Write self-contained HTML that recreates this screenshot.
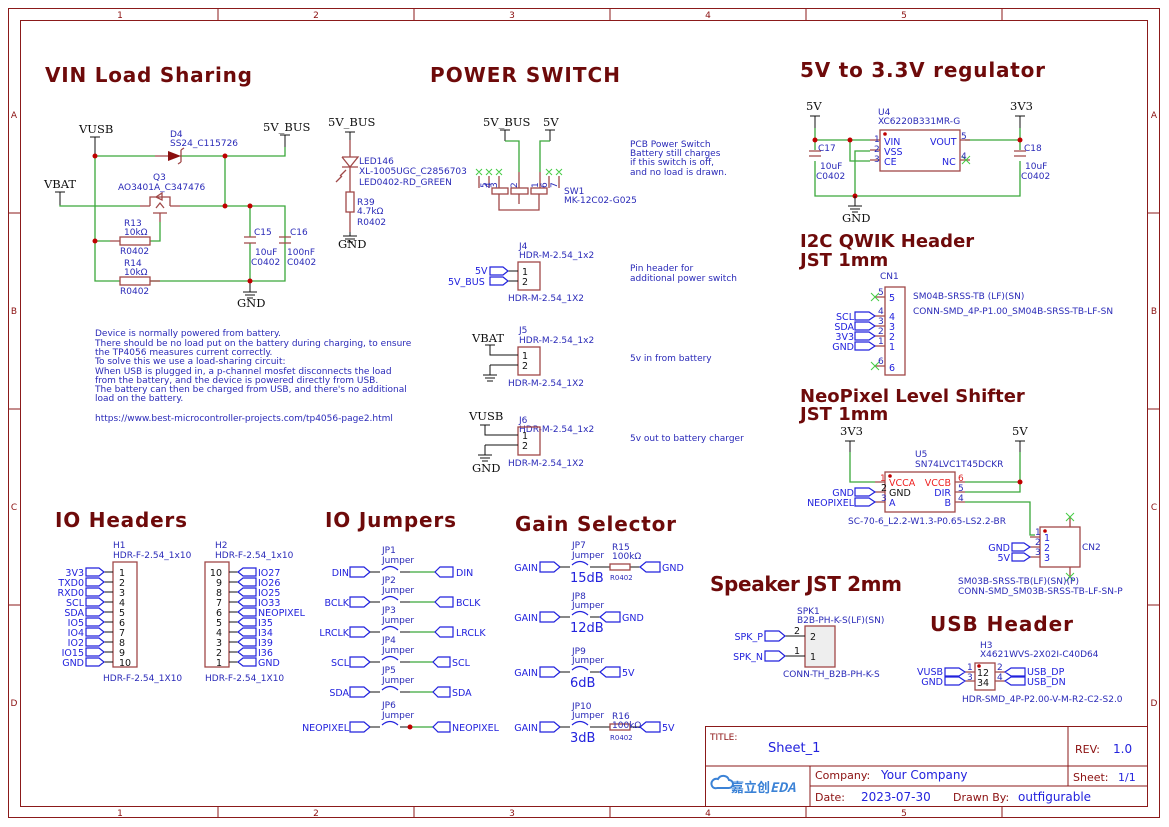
<!DOCTYPE html>
<html><head><meta charset="utf-8"><style>
html,body{margin:0;padding:0;background:#fff}
svg{display:block}
.t{font-family:"DejaVu Sans","Liberation Sans",sans-serif;font-size:9px;fill:#2a2ab8}
.s{font-family:"DejaVu Serif","Liberation Serif",serif;font-size:11.5px;fill:#111}
.h{font-family:"DejaVu Sans","Liberation Sans",sans-serif;font-weight:bold;font-size:20px;fill:#6e0a0a}
.h2{font-family:"DejaVu Sans","Liberation Sans",sans-serif;font-weight:bold;font-size:18px;fill:#6e0a0a}
.f{font-family:"DejaVu Sans","Liberation Sans",sans-serif;font-size:9.5px;fill:#2222dd}
.k{font-family:"DejaVu Sans","Liberation Sans",sans-serif;font-size:9.5px;fill:#111}
.fr{font-family:"DejaVu Sans","Liberation Sans",sans-serif;font-size:9px;fill:#8b1010}
.g{stroke:#3aa83a;stroke-width:1.3;fill:none}
.b{stroke:#111;stroke-width:1;fill:none}
.p{stroke:#a04848;stroke-width:1.3;fill:none}
.n{stroke:#2222dd;stroke-width:1.2;fill:none}
.d{fill:#c00000}
</style></head><body>
<svg width="1169" height="827" viewBox="0 0 1169 827" xmlns="http://www.w3.org/2000/svg">
<!-- frame -->
<rect x="8.5" y="8.5" width="1151" height="809" fill="none" stroke="#8b1a1a"/>
<rect x="20.5" y="20.5" width="1127" height="786" fill="none" stroke="#8b1a1a"/>
<g stroke="#8b1a1a">
<line x1="218" y1="8" x2="218" y2="20"/><line x1="414" y1="8" x2="414" y2="20"/><line x1="610" y1="8" x2="610" y2="20"/><line x1="806" y1="8" x2="806" y2="20"/><line x1="1002" y1="8" x2="1002" y2="20"/>
<line x1="218" y1="806" x2="218" y2="818"/><line x1="414" y1="806" x2="414" y2="818"/><line x1="610" y1="806" x2="610" y2="818"/><line x1="806" y1="806" x2="806" y2="818"/><line x1="1002" y1="806" x2="1002" y2="818"/>
<line x1="8" y1="213" x2="20" y2="213"/><line x1="8" y1="409" x2="20" y2="409"/><line x1="8" y1="605" x2="20" y2="605"/>
<line x1="1147" y1="213" x2="1160" y2="213"/><line x1="1147" y1="409" x2="1160" y2="409"/><line x1="1147" y1="605" x2="1160" y2="605"/>
</g>
<g class="fr" text-anchor="middle">
<text x="120" y="18">1</text><text x="316" y="18">2</text><text x="512" y="18">3</text><text x="708" y="18">4</text><text x="904" y="18">5</text>
<text x="120" y="816">1</text><text x="316" y="816">2</text><text x="512" y="816">3</text><text x="708" y="816">4</text><text x="904" y="816">5</text>
<text x="14" y="118">A</text><text x="14" y="314">B</text><text x="14" y="510">C</text><text x="14" y="706">D</text>
<text x="1154" y="118">A</text><text x="1154" y="314">B</text><text x="1154" y="510">C</text><text x="1154" y="706">D</text>
</g>

<!-- titles -->
<text class="h" x="45" y="82" textLength="207">VIN Load Sharing</text>
<text class="h" x="430" y="82" textLength="190">POWER SWITCH</text>
<text class="h" x="800" y="77" textLength="245">5V to 3.3V regulator</text>
<text class="h2" x="800" y="247">I2C QWIK Header</text>
<text class="h2" x="800" y="266">JST 1mm</text>
<text class="h2" x="800" y="402">NeoPixel Level Shifter</text>
<text class="h2" x="800" y="420">JST 1mm</text>
<text class="h" x="55" y="527" textLength="132">IO Headers</text>
<text class="h" x="325" y="527" textLength="131">IO Jumpers</text>
<text class="h" x="515" y="531" textLength="161">Gain Selector</text>
<text class="h" x="710" y="591" textLength="192">Speaker JST 2mm</text>
<text class="h" x="930" y="631" textLength="143">USB Header</text>

<!-- VIN load sharing -->
<text class="s" x="79" y="133">VUSB</text>
<path class="b" d="M90 137H100M95 137V155"/>
<text class="s" x="263" y="131">5V_BUS</text>
<path class="b" d="M280 135H290M285 135V147"/>
<text class="s" x="44" y="188">VBAT</text>
<path class="b" d="M55 192H65M60 192V205"/>
<path class="g" d="M95 155V281H120M150 281H285V206H180M140 206H60V205M95 156H155M180 156H285V147M225 156V206M250 206V237M250 243V281M285 206V237M285 243V281M95 241H110M150 241H160V222M285 147V156"/>
<path class="p" d="M110 241H120M150 281H160"/>
<rect x="120" y="237" width="30" height="8" class="p"/><rect x="120" y="277" width="30" height="8" class="p"/>
<path d="M168 151L181 156L168 161Z" fill="#8a0f0f"/><path class="p" d="M181 150V162M181 150L184 148M181 162L178 164M155 156H168"/>
<path class="p" d="M140 206H150M170 206H180M150 206V197H170V206M153 213H167M160 213V222M156 208L160 203L164 208M156 197L162 193V200L156 197"/>
<path class="p" d="M244 237H256M244 243H256M279 237H291M279 243H291"/>
<path class="b" d="M250 281V292M243 292H257M245 295H255M247 298H253"/>
<g fill="#c00000"><circle cx="95" cy="156" r="2.5"/><circle cx="225" cy="156" r="2.5"/><circle cx="225" cy="206" r="2.5"/><circle cx="250" cy="206" r="2.5"/><circle cx="95" cy="241" r="2.5"/><circle cx="250" cy="281" r="2.5"/></g>
<text class="t" x="170" y="137">D4</text><text class="t" x="170" y="146">SS24_C115726</text>
<text class="t" x="153" y="180">Q3</text><text class="t" x="118" y="190">AO3401A_C347476</text>
<text class="t" x="124" y="226">R13</text><text class="t" x="124" y="235">10kΩ</text><text class="t" x="120" y="254" font-size="6.5">R0402</text>
<text class="t" x="124" y="266">R14</text><text class="t" x="124" y="275">10kΩ</text><text class="t" x="120" y="294" font-size="6.5">R0402</text>
<text class="t" x="254" y="235">C15</text><text class="t" x="255" y="255">10uF</text><text class="t" x="251" y="265">C0402</text>
<text class="t" x="290" y="235">C16</text><text class="t" x="287" y="255">100nF</text><text class="t" x="287" y="265">C0402</text>
<text class="s" x="237" y="307">GND</text>

<!-- LED -->
<text class="s" x="328" y="126">5V_BUS</text>
<path class="b" d="M345 132H355M350 132V140"/>
<path class="p" d="M350 140V157M342 157H358L350 167L342 157M342 167H358M350 167V192M350 212V232M346 170L340 176M342 176L336 182"/>
<rect x="346" y="192" width="8" height="20" class="p"/>
<path class="b" d="M350 232V236M343 236H357M345 239H355M347 242H353"/>
<text class="s" x="338" y="248">GND</text>
<text class="t" x="359" y="164">LED146</text><text class="t" x="359" y="174">XL-1005UGC_C2856703</text><text class="t" x="359" y="185">LED0402-RD_GREEN</text>
<text class="t" x="357" y="205">R39</text><text class="t" x="357" y="214">4.7kΩ</text><text class="t" x="357" y="225">R0402</text>

<!-- Power switch -->
<text class="s" x="483" y="126">5V_BUS</text><text class="s" x="543" y="126">5V</text>
<path class="b" d="M500 130H510M505 130V141M545 130H555M550 130V141"/>
<path class="g" d="M505 141H519V172M550 141H540V172"/>
<path class="p" d="M519 172V188M540 172V188M479 176V188M489 176V188M499 176V188M549 176V188M559 176V188"/>
<rect x="492" y="188" width="16" height="6" class="p"/><rect x="511" y="188" width="17" height="6" class="p"/><rect x="531" y="188" width="16" height="6" class="p"/>
<path class="p" d="M499 194V210H539V194M519 194V204"/>
<g class="t" font-size="8">
<text transform="translate(487 188) rotate(-90)">5</text><text transform="translate(491 188) rotate(-90)">4</text><text transform="translate(497 188) rotate(-90)">3</text><text transform="translate(517 188) rotate(-90)">2</text><text transform="translate(538 188) rotate(-90)">1</text><text transform="translate(547 188) rotate(-90)">6</text><text transform="translate(557 188) rotate(-90)">7</text>
</g>
<g stroke="#4c4" stroke-width="1"><path d="M476 169l6 6M482 169l-6 6M486 169l6 6M492 169l-6 6M496 169l6 6M502 169l-6 6M546 169l6 6M552 169l-6 6M556 169l6 6M562 169l-6 6"/></g>
<text class="t" x="564" y="194">SW1</text><text class="t" x="564" y="203">MK-12C02-G025</text>
<text class="t" x="630" y="147">PCB Power Switch</text><text class="t" x="630" y="156">Battery still charges</text><text class="t" x="630" y="165">if this switch is off,</text><text class="t" x="630" y="175">and no load is drawn.</text>

<!-- J4 -->
<text class="t" x="519" y="249">J4</text><text class="t" x="519" y="258">HDR-M-2.54_1x2</text>
<rect x="518" y="262" width="22" height="28" class="p"/>
<path class="b" d="M508 271H518M508 281H518"/><text class="k" x="522" y="275">1</text><text class="k" x="522" y="285">2</text>
<path class="n" d="M490 267H503L508 271L503 275H490ZM490 277H503L508 281L503 285H490Z"/>
<text class="f" x="475" y="274">5V</text><text class="f" x="448" y="285">5V_BUS</text>
<text class="t" x="508" y="301">HDR-M-2.54_1X2</text>
<text class="t" x="630" y="271">Pin header for</text><text class="t" x="630" y="281">additional power switch</text>
<!-- J5 -->
<text class="t" x="519" y="333">J5</text><text class="t" x="519" y="343">HDR-M-2.54_1x2</text>
<rect x="518" y="347" width="22" height="28" class="p"/>
<text class="s" x="472" y="342">VBAT</text>
<path class="b" d="M485 345H495M490 345V355H518M490 365V375H484M508 365H518M490 365H508M483 375H497M485 378H495M487 381H493"/>
<text class="k" x="522" y="359">1</text><text class="k" x="522" y="369">2</text>
<text class="t" x="508" y="386">HDR-M-2.54_1X2</text>
<text class="t" x="630" y="361">5v in from battery</text>
<!-- J6 -->
<text class="t" x="519" y="423">J6</text><text class="t" x="519" y="432">HDR-M-2.54_1x2</text>
<rect x="518" y="427" width="22" height="28" class="p"/>
<text class="s" x="469" y="420">VUSB</text>
<path class="b" d="M480 425H490M485 425V435H518M485 445H518M485 445V455M478 455H492M480 458H490M482 461H488"/>
<text class="k" x="522" y="439">1</text><text class="k" x="522" y="449">2</text>
<text class="s" x="472" y="472">GND</text>
<text class="t" x="508" y="466">HDR-M-2.54_1X2</text>
<text class="t" x="630" y="441">5v out to battery charger</text>

<!-- paragraph -->
<g class="t" font-size="9.3">
<text x="95" y="336">Device is normally powered from battery.</text>
<text x="95" y="346">There should be no load put on the battery during charging, to ensure</text>
<text x="95" y="355">the TP4056 measures current correctly.</text>
<text x="95" y="364">To solve this we use a load-sharing circuit:</text>
<text x="95" y="374">When USB is plugged in, a p-channel mosfet disconnects the load</text>
<text x="95" y="383">from the battery, and the device is powered directly from USB.</text>
<text x="95" y="392">The battery can then be charged from USB, and there's no additional</text>
<text x="95" y="401">load on the battery.</text>
<text x="95" y="421">https://www.best-microcontroller-projects.com/tp4056-page2.html</text>
</g>

<!-- Regulator -->
<text class="s" x="806" y="110">5V</text><text class="s" x="1010" y="110">3V3</text>
<path class="b" d="M810 116H820M815 116V128M1015 116H1025M1020 116V128"/>
<path class="g" d="M815 128V150M815 161V196H1020V161M1020 150V128M815 140H870M850 140V161H870M870 151H855V196M965 140H1020"/>
<path class="p" d="M809 151H821M809 156H821M1014 151H1026M1014 156H1026"/>
<rect x="880" y="130" width="80" height="41" class="p"/>
<path class="p" d="M870 140H880M870 150H880M870 160H880M960 140H970M960 160H970"/>
<circle cx="885" cy="134" r="1.8" class="d"/>
<path stroke="#4c4" d="M962 156l8 8M970 156l-8 8"/>
<g fill="#c00000"><circle cx="815" cy="140" r="2.5"/><circle cx="850" cy="140" r="2.5"/><circle cx="855" cy="196" r="2.5"/><circle cx="1020" cy="140" r="2.5"/></g>
<path class="b" d="M855 196V206M848 206H862M850 209H860M852 212H858"/>
<text class="s" x="842" y="222">GND</text>
<text class="t" x="878" y="115">U4</text><text class="t" x="878" y="124">XC6220B331MR-G</text>
<g class="t"><text x="874" y="142">1</text><text x="874" y="152">2</text><text x="874" y="162">3</text><text x="961" y="139">5</text><text x="961" y="159">4</text></g>
<g class="f"><text x="884" y="145">VIN</text><text x="884" y="155">VSS</text><text x="884" y="165">CE</text><text x="930" y="145">VOUT</text><text x="942" y="165">NC</text></g>
<text class="t" x="818" y="151">C17</text><text class="t" x="820" y="169">10uF</text><text class="t" x="816" y="179">C0402</text>
<text class="t" x="1024" y="151">C18</text><text class="t" x="1025" y="169">10uF</text><text class="t" x="1021" y="179">C0402</text>

<!-- CN1 -->
<text class="t" x="880" y="279">CN1</text>
<rect x="885" y="287" width="20" height="88" class="p"/>
<path class="p" d="M875 297H885M875 316H885M875 326H885M875 336H885M875 346H885M875 366H885"/>
<path stroke="#4c4" d="M871 293l8 8M879 293l-8 8M871 362l8 8M879 362l-8 8"/>
<g class="t"><text x="878" y="295">5</text><text x="878" y="314">4</text><text x="878" y="324">3</text><text x="878" y="334">2</text><text x="878" y="344">1</text><text x="878" y="364">6</text></g>
<g class="f"><text x="889" y="301">5</text><text x="889" y="320">4</text><text x="889" y="330">3</text><text x="889" y="340">2</text><text x="889" y="350">1</text><text x="889" y="371">6</text></g>
<path class="n" d="M855 312H869L875 316L869 320H855ZM855 322H869L875 326L869 330H855ZM855 332H869L875 336L869 340H855ZM855 342H869L875 346L869 350H855Z"/>
<g class="f" text-anchor="end"><text x="854" y="320">SCL</text><text x="854" y="330">SDA</text><text x="854" y="340">3V3</text><text x="854" y="350">GND</text></g>
<text class="t" x="913" y="299">SM04B-SRSS-TB (LF)(SN)</text>
<text class="t" x="913" y="314">CONN-SMD_4P-P1.00_SM04B-SRSS-TB-LF-SN</text>

<!-- U5 -->
<text class="s" x="840" y="435">3V3</text><text class="s" x="1012" y="435">5V</text>
<path class="b" d="M845 441H855M850 441V452M1015 441H1025M1020 441V452"/>
<path class="g" d="M850 452V482H875M1020 452V492H965M965 482H1020M965 502H1030V535H1035"/>
<circle cx="1020" cy="482" r="2.5" class="d"/>
<text class="t" x="915" y="457">U5</text><text class="t" x="915" y="467">SN74LVC1T45DCKR</text>
<rect x="885" y="472" width="70" height="40" class="p"/><circle cx="890" cy="476" r="1.8" class="d"/>
<path class="p" d="M875 482H885M875 492H885M875 502H885M955 482H965M955 492H965M955 502H965"/>
<text x="880" y="481" class="t" style="fill:#d22">1</text><text x="881" y="491" class="k">2</text><text x="881" y="501" class="t">3</text>
<text x="958" y="481" class="t" style="fill:#d22">6</text><text x="958" y="491" class="t">5</text><text x="958" y="501" class="t">4</text>
<text x="889" y="486" class="f" style="fill:#e22">VCCA</text><text x="889" y="496" class="k">GND</text><text x="889" y="506" class="f">A</text>
<text x="951" y="486" class="f" style="fill:#e22" text-anchor="end">VCCB</text><text x="951" y="496" class="f" text-anchor="end">DIR</text><text x="951" y="506" class="f" text-anchor="end">B</text>
<path class="n" d="M855 488H869L875 492L869 496H855ZM855 498H869L875 502L869 506H855Z"/>
<g class="f" text-anchor="end"><text x="854" y="496">GND</text><text x="854" y="506">NEOPIXEL</text></g>
<text class="t" x="848" y="524">SC-70-6_L2.2-W1.3-P0.65-LS2.2-BR</text>
<!-- CN2 -->
<rect x="1040" y="527" width="40" height="40" class="p"/><circle cx="1045" cy="531" r="1.8" class="d"/>
<path class="p" d="M1030 537H1040M1030 547H1040M1030 557H1040M1070 517V527M1070 567V577"/>
<path stroke="#4c4" d="M1066 513l8 8M1074 513l-8 8M1066 573l8 8M1074 573l-8 8"/>
<g class="f"><text x="1044" y="541">1</text><text x="1044" y="551">2</text><text x="1044" y="561">3</text></g>
<g class="t"><text x="1035" y="535">1</text><text x="1035" y="545">2</text><text x="1035" y="555">3</text></g>
<text class="t" x="1082" y="550">CN2</text>
<path class="n" d="M1012 543H1024L1030 547L1024 551H1012ZM1012 553H1024L1030 557L1024 561H1012Z"/>
<g class="f" text-anchor="end"><text x="1010" y="551">GND</text><text x="1010" y="561">5V</text></g>
<text class="t" x="958" y="584">SM03B-SRSS-TB(LF)(SN)(P)</text>
<text class="t" x="958" y="594">CONN-SMD_SM03B-SRSS-TB-LF-SN-P</text>

<!-- Speaker -->
<text class="t" x="797" y="614">SPK1</text><text class="t" x="797" y="623">B2B-PH-K-S(LF)(SN)</text>
<rect x="805" y="626" width="30" height="41" fill="#eeeeee" stroke="#a04848" stroke-width="1.3"/>
<path class="b" d="M785 636H805M785 656H805"/>
<text class="k" x="794" y="634">2</text><text class="k" x="794" y="654">1</text>
<text class="k" x="810" y="640">2</text><text class="k" x="810" y="660">1</text>
<path class="n" d="M765 631H779L785 636L779 641H765ZM765 651H779L785 656L779 661H765Z"/>
<g class="f" text-anchor="end"><text x="763" y="640">SPK_P</text><text x="763" y="660">SPK_N</text></g>
<text class="t" x="783" y="677">CONN-TH_B2B-PH-K-S</text>

<!-- USB header -->
<text class="t" x="980" y="648">H3</text><text class="t" x="980" y="657">X4621WVS-2X02I-C40D64</text>
<rect x="975" y="663" width="20" height="27" class="p"/><circle cx="979" cy="666" r="1.8" class="d"/>
<path class="p" d="M965 672H975M965 681H975M995 672H1005M995 681H1005"/>
<text class="k" x="977" y="676">12</text><text class="k" x="977" y="686">34</text>
<g class="t"><text x="967" y="670">1</text><text x="967" y="680">3</text><text x="997" y="670">2</text><text x="997" y="680">4</text></g>
<path class="n" d="M945 668H959L965 672L959 676H945ZM945 677H959L965 681L959 685H945ZM1025 668H1011L1005 672L1011 676H1025ZM1025 677H1011L1005 681L1011 685H1025Z"/>
<g class="f"><text x="943" y="675" text-anchor="end">VUSB</text><text x="943" y="685" text-anchor="end">GND</text><text x="1027" y="675">USB_DP</text><text x="1027" y="685">USB_DN</text></g>
<text class="t" x="962" y="702">HDR-SMD_4P-P2.00-V-M-R2-C2-S2.0</text>

<!-- H1 -->
<text class="t" x="113" y="548">H1</text><text class="t" x="113" y="558">HDR-F-2.54_1x10</text>
<rect x="113" y="562" width="24" height="105" class="p"/>
<text class="t" x="215" y="548">H2</text><text class="t" x="215" y="558">HDR-F-2.54_1x10</text>
<rect x="205" y="562" width="24" height="105" class="p"/>
<path class="b" d="M103 572H113M103 582H113M103 592H113M103 602H113M103 612H113M103 622H113M103 632H113M103 642H113M103 652H113M103 662H113M229 572H239M229 582H239M229 592H239M229 602H239M229 612H239M229 622H239M229 632H239M229 642H239M229 652H239M229 662H239"/>
<path class="n" d="M86 568H99L104 572L99 576H86ZM86 578H99L104 582L99 586H86ZM86 588H99L104 592L99 596H86ZM86 598H99L104 602L99 606H86ZM86 608H99L104 612L99 616H86ZM86 618H99L104 622L99 626H86ZM86 628H99L104 632L99 636H86ZM86 638H99L104 642L99 646H86ZM86 648H99L104 652L99 656H86ZM86 658H99L104 662L99 666H86Z"/>
<path class="n" d="M256 568H243L238 572L243 576H256ZM256 578H243L238 582L243 586H256ZM256 588H243L238 592L243 596H256ZM256 598H243L238 602L243 606H256ZM256 608H243L238 612L243 616H256ZM256 618H243L238 622L243 626H256ZM256 628H243L238 632L243 636H256ZM256 638H243L238 642L243 646H256ZM256 648H243L238 652L243 656H256ZM256 658H243L238 662L243 666H256Z"/>
<g class="f" text-anchor="end"><text x="84" y="576">3V3</text><text x="84" y="586">TXD0</text><text x="84" y="596">RXD0</text><text x="84" y="606">SCL</text><text x="84" y="616">SDA</text><text x="84" y="626">IO5</text><text x="84" y="636">IO4</text><text x="84" y="646">IO2</text><text x="84" y="656">IO15</text><text x="84" y="666">GND</text></g>
<g class="k"><text x="119" y="576">1</text><text x="119" y="586">2</text><text x="119" y="596">3</text><text x="119" y="606">4</text><text x="119" y="616">5</text><text x="119" y="626">6</text><text x="119" y="636">7</text><text x="119" y="646">8</text><text x="119" y="656">9</text><text x="119" y="666">10</text></g>
<g class="k" text-anchor="end"><text x="222" y="576">10</text><text x="222" y="586">9</text><text x="222" y="596">8</text><text x="222" y="606">7</text><text x="222" y="616">6</text><text x="222" y="626">5</text><text x="222" y="636">4</text><text x="222" y="646">3</text><text x="222" y="656">2</text><text x="222" y="666">1</text></g>
<g class="f"><text x="258" y="576">IO27</text><text x="258" y="586">IO26</text><text x="258" y="596">IO25</text><text x="258" y="606">IO33</text><text x="258" y="616">NEOPIXEL</text><text x="258" y="626">I35</text><text x="258" y="636">I34</text><text x="258" y="646">I39</text><text x="258" y="656">I36</text><text x="258" y="666">GND</text></g>
<text class="t" x="103" y="681">HDR-F-2.54_1X10</text><text class="t" x="205" y="681">HDR-F-2.54_1X10</text>

<!-- IO Jumpers -->
<g class="t"><text x="382" y="553">JP1</text><text x="382" y="563">Jumper</text><text x="382" y="583">JP2</text><text x="382" y="593">Jumper</text><text x="382" y="613">JP3</text><text x="382" y="623">Jumper</text><text x="382" y="643">JP4</text><text x="382" y="653">Jumper</text><text x="382" y="673">JP5</text><text x="382" y="683">Jumper</text><text x="382" y="708">JP6</text><text x="382" y="718">Jumper</text></g>
<path class="n" d="M350 567H364L370 572L364 577H350ZM350 597H364L370 602L364 607H350ZM350 627H364L370 632L364 637H350ZM350 657H364L370 662L364 667H350ZM350 687H364L370 692L364 697H350ZM350 722H364L370 727L364 732H350Z"/>
<path class="n" d="M382 570Q390 563 398 570M382 600Q390 593 398 600M382 630Q390 623 398 630M382 660Q390 653 398 660M382 690Q390 683 398 690M382 725Q390 718 398 725"/>
<path class="b" d="M370 572H380M400 572H410M370 602H380M400 602H410M370 632H380M400 632H410M370 662H380M400 662H410M370 692H380M400 692H410M370 727H380M400 727H410"/>
<path class="g" d="M410 572H435M410 602H435M410 632H435M410 662H433M410 692H433M410 727H433"/>
<circle cx="410" cy="727" r="2.5" class="d"/>
<path class="n" d="M453 567H440L435 572L440 577H453ZM453 597H440L435 602L440 607H453ZM453 627H440L435 632L440 637H453ZM450 657H438L433 662L438 667H450ZM450 687H438L433 692L438 697H450ZM450 722H438L433 727L438 732H450Z"/>
<g class="f" text-anchor="end"><text x="349" y="576">DIN</text><text x="349" y="606">BCLK</text><text x="349" y="636">LRCLK</text><text x="349" y="666">SCL</text><text x="349" y="696">SDA</text><text x="349" y="731">NEOPIXEL</text></g>
<g class="f"><text x="456" y="576">DIN</text><text x="456" y="606">BCLK</text><text x="456" y="636">LRCLK</text><text x="452" y="666">SCL</text><text x="452" y="696">SDA</text><text x="452" y="731">NEOPIXEL</text></g>

<!-- Gain -->
<path class="n" d="M540 562H554L560 567L554 572H540ZM540 612H554L560 617L554 622H540ZM540 667H554L560 672L554 677H540ZM540 722H554L560 727L554 732H540Z"/>
<g class="f" text-anchor="end"><text x="538" y="571">GAIN</text><text x="538" y="621">GAIN</text><text x="538" y="676">GAIN</text><text x="538" y="731">GAIN</text></g>
<path class="n" d="M572 565Q580 558 588 565M572 615Q580 608 588 615M572 670Q580 663 588 670M572 725Q580 718 588 725"/>
<path class="b" d="M560 567H570M590 567H610M630 567H640M560 617H570M590 617H600M560 672H570M590 672H600M560 727H570M590 727H610M630 727H640"/>
<rect x="610" y="564" width="20" height="6" class="p"/><rect x="610" y="724" width="20" height="6" class="p"/>
<path class="n" d="M660 562H646L640 567L646 572H660ZM620 612H606L600 617L606 622H620ZM620 667H606L600 672L606 677H620ZM660 722H646L640 727L646 732H660Z"/>
<g class="f"><text x="662" y="571">GND</text><text x="622" y="621">GND</text><text x="622" y="676">5V</text><text x="662" y="731">5V</text></g>
<g class="t"><text x="572" y="548">JP7</text><text x="572" y="558">Jumper</text><text x="572" y="599">JP8</text><text x="572" y="608">Jumper</text><text x="572" y="654">JP9</text><text x="572" y="663">Jumper</text><text x="572" y="709">JP10</text><text x="572" y="718">Jumper</text>
<text x="612" y="550">R15</text><text x="612" y="559">100kΩ</text><text x="610" y="580" font-size="7">R0402</text>
<text x="612" y="719">R16</text><text x="612" y="728">100kΩ</text><text x="610" y="740" font-size="7">R0402</text></g>
<g class="f"><text x="570" y="582" style="font-size:13px">15dB</text><text x="570" y="632" style="font-size:13px">12dB</text><text x="570" y="687" style="font-size:13px">6dB</text><text x="570" y="742" style="font-size:13px">3dB</text></g>

<!-- title block -->
<g stroke="#8b1a1a" fill="none"><rect x="705.5" y="726.5" width="442" height="80"/>
<path d="M705 766H1147M810 786H1147M810 766V806M1068 726V786"/></g>
<text class="fr" x="710" y="740">TITLE:</text>
<text class="f" x="768" y="752" style="font-size:13px">Sheet_1</text>
<text class="fr" x="1075" y="753" style="font-size:11px">REV:</text><text class="f" x="1113" y="753" style="font-size:12px">1.0</text>
<text class="fr" x="815" y="779" style="font-size:11px">Company:</text><text class="f" x="881" y="779" style="font-size:12px">Your Company</text>
<text class="fr" x="1073" y="781" style="font-size:11px">Sheet:</text><text class="f" x="1118" y="781" style="font-size:11px">1/1</text>
<text class="fr" x="815" y="801" style="font-size:11px">Date:</text><text class="f" x="861" y="801" style="font-size:12px">2023-07-30</text>
<text class="fr" x="953" y="801" style="font-size:11px">Drawn By:</text><text class="f" x="1018" y="801" style="font-size:12px">outfigurable</text>
<path d="M712 786a5 5 0 0 1 6-7a6 6 0 0 1 11 1a4 4 0 0 1 0 8h-12a4 4 0 0 1-5-2z" fill="none" stroke="#3b82d6" stroke-width="2"/>
<text x="731" y="792" style="font-family:'Noto Sans CJK SC','Liberation Sans',sans-serif;font-size:13px;fill:#3b82d6;font-weight:bold">嘉立创<tspan font-style="italic">EDA</tspan></text>
</svg>
</body></html>
